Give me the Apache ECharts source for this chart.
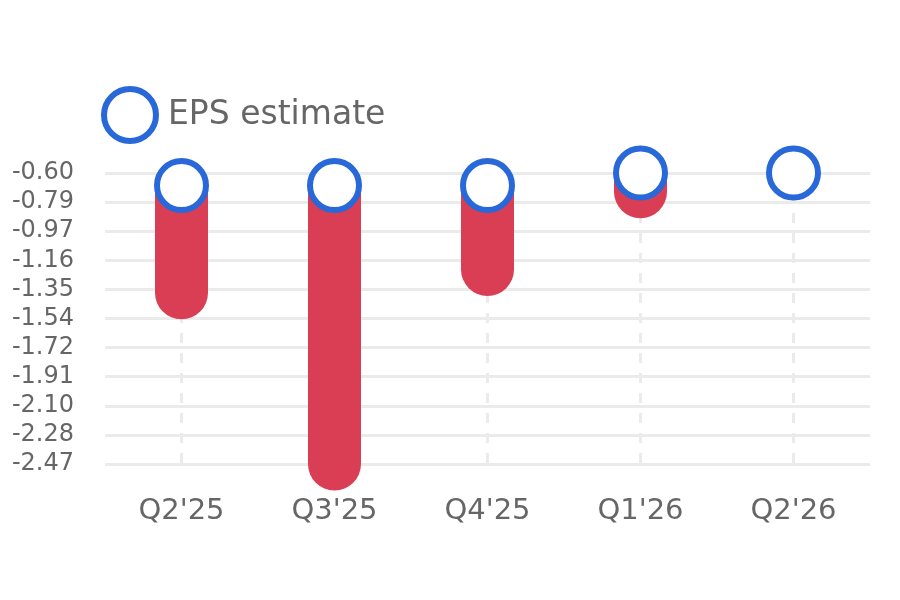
<!DOCTYPE html>
<html>
<head>
<meta charset="utf-8">
<script src="https://cdn.jsdelivr.net/npm/echarts@6/dist/echarts.min.js"></script>
<style>
  html, body { margin: 0; padding: 0; background: #fff; }
  #chart { width: 900px; height: 600px; }
</style>
</head>
<body>
<div id="chart"></div>
<script>
// quarters on the x axis
var categories = ["Q2'25", "Q3'25", "Q4'25", "Q1'26", "Q2'26"]
// EPS estimate (circles) and reported EPS (end of the red bar)
var epsEstimate = [-0.68, -0.68, -0.68, -0.60, -0.60]
var epsActual = [-1.37, -2.47, -1.22, -0.72, null]
// y axis tick labels, bottom to top
var yTickLabels = ['-2.47', '-2.28', '-2.10', '-1.91', '-1.72', '-1.54', '-1.35', '-1.16', '-0.97', '-0.79', '-0.60']

var yMin = -2.47
var yMax = -0.60
var yStep = (yMax - yMin) / (yTickLabels.length - 1)

var textColor = '#666666'
var gridColor = '#ebebeb'
var missColor = '#d93e54'
var estColor = '#2968d8'

var chart = echarts.init(document.getElementById('chart'))

chart.setOption({
  animation: false,
  legend: {
    left: 101,
    top: 86,
    padding: 0,
    icon: 'circle',
    itemWidth: 52,
    itemHeight: 52,
    itemStyle: {
      color: '#fff',
      borderColor: estColor,
      borderWidth: 6
    },
    textStyle: {
      color: textColor,
      fontSize: 33,
      fontFamily: 'DejaVu Sans',
      padding: [2, 0, 0, 7]
    },
    data: ['EPS estimate']
  },
  grid: {
    left: 105,
    right: 30,
    top: 173,
    bottom: 136
  },
  xAxis: {
    type: 'category',
    data: categories,
    axisLine: { show: false },
    axisTick: { show: false },
    splitLine: { show: false },
    axisLabel: {
      color: textColor,
      fontSize: 29,
      fontFamily: 'DejaVu Sans',
      margin: 33
    }
  },
  yAxis: {
    type: 'value',
    min: yMin,
    max: yMax,
    interval: yStep,
    axisLine: { show: false },
    axisTick: { show: false },
    splitLine: {
      lineStyle: { color: gridColor, width: 3 }
    },
    axisLabel: {
      color: textColor,
      fontSize: 24,
      fontFamily: 'DejaVu Sans',
      margin: 31,
      formatter: function (v) {
        return yTickLabels[Math.round((v - yMin) / yStep)]
      }
    }
  },
  series: [
    {
      // dashed guide through each quarter
      type: 'custom',
      silent: true,
      z: 1,
      data: categories.map(function (c, i) { return [i] }),
      renderItem: function (params, api) {
        var top = api.coord([api.value(0), yMax])
        var bottom = api.coord([api.value(0), yMin])
        return {
          type: 'line',
          shape: { x1: top[0], y1: top[1], x2: bottom[0], y2: bottom[1] },
          style: { stroke: gridColor, lineWidth: 3, lineDash: [10, 10] }
        }
      }
    },
    {
      // gap between estimate and actual
      type: 'custom',
      silent: true,
      z: 2,
      data: categories.map(function (c, i) { return [i, epsEstimate[i], epsActual[i]] }),
      renderItem: function (params, api) {
        var i = params.dataIndex
        if (epsActual[i] == null) return null
        var a = api.coord([api.value(0), api.value(1)])
        var b = api.coord([api.value(0), api.value(2)])
        return {
          type: 'line',
          shape: { x1: a[0], y1: a[1], x2: b[0], y2: b[1] },
          style: { stroke: missColor, lineWidth: 53, lineCap: 'round' }
        }
      }
    },
    {
      name: 'EPS estimate',
      type: 'scatter',
      z: 3,
      symbol: 'circle',
      symbolSize: 49,
      itemStyle: {
        color: '#fff',
        borderColor: estColor,
        borderWidth: 6,
        opacity: 1
      },
      data: epsEstimate
    }
  ]
})
</script>
</body>
</html>
